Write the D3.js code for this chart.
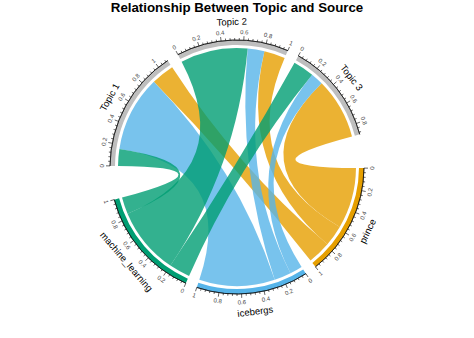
<!DOCTYPE html>
<html>
<head>
<meta charset="utf-8">
<script src="https://cdn.jsdelivr.net/npm/d3@7"></script>
<style>
  body { margin: 0; background: #fff; }
  text { font-family: "Liberation Sans", Arial, sans-serif; }
</style>
</head>
<body>
<svg id="chart" width="474" height="338"></svg>
<script>
// sector order as drawn, clockwise from 3 o'clock
const sources = ['prince', 'icebergs', 'machine_learning'];
const topics = ['Topic 1', 'Topic 2', 'Topic 3'];

// share of each source going to Topic 1, Topic 2, Topic 3
const princeShares = [0.22, 0.20, 0.58];
const icebergsShares = [0.72, 0.16, 0.12];
const mlShares = [0.16, 0.64, 0.20];

const sourceColors = ['#E69F00', '#56B4E9', '#009E73'];
const topicColor = '#BEBEBE';

const shares = [princeShares, icebergsShares, mlShares];

const width = 474, height = 338;
const cx = 237, cy = 167;
const rChord = 119, rTrackIn = 122, rTrackOut = 127;

const deg = Math.PI / 180;
const smallGap = 5.3, bigGap = 15.4, startDeg = 90.5;

const svg = d3.select('#chart');

svg.append('text')
    .attr('x', width / 2).attr('y', 12)
    .attr('text-anchor', 'middle')
    .attr('font-size', 13.3).attr('font-weight', 'bold')
    .text('Relationship Between Topic and Source');

const g = svg.append('g').attr('transform', 'translate(' + cx + ',' + cy + ')');

// build sectors
let sectors = [];
sources.forEach((s, i) => sectors.push({ name: s, total: d3.sum(shares[i]), color: sourceColors[i] }));
topics.forEach((t, j) => sectors.push({ name: t, total: d3.sum(shares, r => r[j]), color: topicColor }));

const grand = d3.sum(sectors, d => d.total);
const unitDeg = (360 - 4 * smallGap - 2 * bigGap) / grand;
const unit = d3.scaleLinear().domain([0, 1]).range([0, unitDeg * deg]);

let a = startDeg * deg;
sectors.forEach((s, i) => {
    s.start = a;
    s.end = a + unit(s.total);
    a = s.end + ((i == 2 || i == 5) ? bigGap : smallGap) * deg;
});

// link positions inside each sector
// source sectors: Topic 3, Topic 2, Topic 1 from the start
// topic sectors: machine_learning, icebergs, prince from the start
let links = [];
sources.forEach((s, i) => {
    let sec = sectors[i];
    let pos = sec.start;
    [2, 1, 0].forEach(j => {
        let w = unit(shares[i][j]);
        links.push({ i: i, j: j, source: { startAngle: pos, endAngle: pos + w } });
        pos += w;
    });
});
topics.forEach((t, j) => {
    let sec = sectors[3 + j];
    let pos = sec.start;
    [2, 1, 0].forEach(i => {
        let w = unit(shares[i][j]);
        let l = links.find(d => d.i == i && d.j == j);
        l.target = { startAngle: pos, endAngle: pos + w };
        pos += w;
    });
});

const ribbon = d3.ribbon().radius(rChord);

g.selectAll('path.chord')
    .data(links)
    .join('path')
    .attr('class', 'chord')
    .attr('d', ribbon)
    .attr('fill', d => sourceColors[d.i])
    .attr('fill-opacity', 0.8);

// tracks
const arc = d3.arc().innerRadius(rTrackIn).outerRadius(rTrackOut);
g.selectAll('path.track')
    .data(sectors)
    .join('path')
    .attr('class', 'track')
    .attr('d', d => arc({ startAngle: d.start, endAngle: d.end }))
    .attr('fill', d => d.color);

function polar(r, ang) {
    return [r * Math.sin(ang), -r * Math.cos(ang)];
}

function tangentText(sel, r, ang, fontSize) {
    let d = ang / deg % 360;
    let flip = d > 90 && d < 270;
    let p = polar(r, ang);
    sel.attr('transform', 'translate(' + p[0] + ',' + p[1] + ') rotate(' + (flip ? d + 180 : d) + ')')
        .attr('text-anchor', 'middle')
        .attr('font-size', fontSize)
        .attr('dy', flip ? '0.72em' : 0);
}

// axes
sectors.forEach(s => {
    let ax = g.append('g');
    ax.append('path')
        .attr('d', d3.arc().innerRadius(rTrackOut).outerRadius(rTrackOut)({ startAngle: s.start, endAngle: s.end }))
        .attr('fill', 'none').attr('stroke', '#000').attr('stroke-width', 0.6);
    let n = Math.floor(s.total / 0.04 + 1e-6);
    d3.range(n + 1).forEach(k => {
        let v = k * 0.04;
        let ang = s.start + unit(v);
        let major = k % 5 == 0;
        let p1 = polar(rTrackOut, ang), p2 = polar(rTrackOut + (major ? 4 : 2), ang);
        ax.append('line')
            .attr('x1', p1[0]).attr('y1', p1[1]).attr('x2', p2[0]).attr('y2', p2[1])
            .attr('stroke', '#000').attr('stroke-width', 0.6);
        if (major) {
            ax.append('text')
                .call(tangentText, rTrackOut + 6, ang, 6)
                .attr('fill', '#444')
                .text(d3.format('~g')(+v.toFixed(2)));
        }
    });
    g.append('text')
        .call(tangentText, rTrackOut + 15, (s.start + s.end) / 2, 9.5)
        .text(s.name);
});
</script>
</body>
</html>
